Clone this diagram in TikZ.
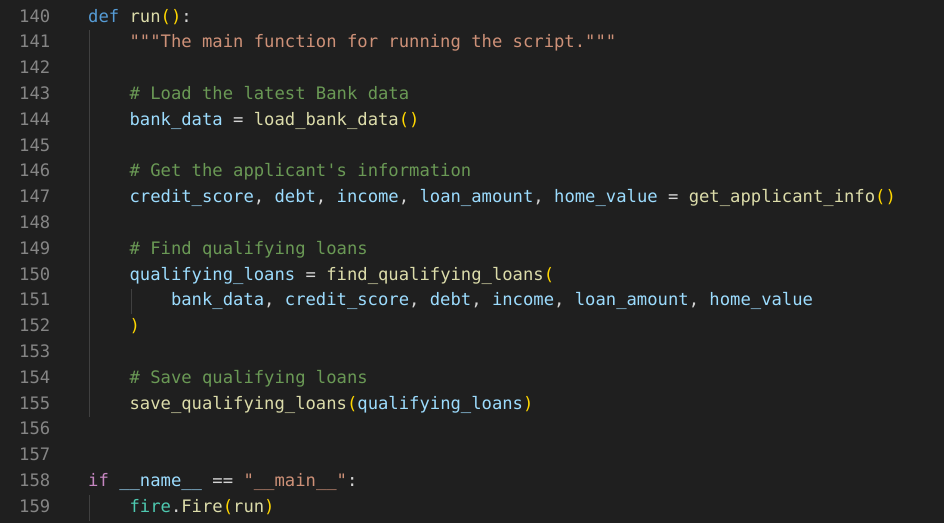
\documentclass[tikz,border=0pt]{standalone}
\usepackage{fontspec}
\newfontfamily\code{DejaVu Sans Mono}[Ligatures=NoCommon]
\definecolor{bg}{HTML}{1F1F1F}
\definecolor{ln}{HTML}{858585}
\definecolor{kwc}{HTML}{569CD6}
\definecolor{fnc}{HTML}{DCDCAA}
\definecolor{vac}{HTML}{9CDCFE}
\definecolor{stc}{HTML}{CE9178}
\definecolor{cmc}{HTML}{6A9955}
\definecolor{brc}{HTML}{FFD700}
\definecolor{opc}{HTML}{D4D4D4}
\definecolor{tec}{HTML}{4EC9B0}
\definecolor{pkc}{HTML}{C586C0}
\definecolor{gd}{HTML}{404040}
\newcommand\kw[1]{\textcolor{kwc}{#1}}
\newcommand\fn[1]{\textcolor{fnc}{#1}}
\newcommand\va[1]{\textcolor{vac}{#1}}
\newcommand\st[1]{\textcolor{stc}{#1}}
\newcommand\cm[1]{\textcolor{cmc}{#1}}
\newcommand\br[1]{\textcolor{brc}{#1}}
\newcommand\te[1]{\textcolor{tec}{#1}}
\newcommand\pk[1]{\textcolor{pkc}{#1}}
\newcommand\q{\symbol{34}}
\begin{document}
\begin{tikzpicture}[x=1pt,y=1pt,
  lnum/.style={anchor=base east,inner sep=0,text=ln,font=\code\fontsize{17.2}{20}\selectfont},
  src/.style={anchor=base west,inner sep=0,text=opc,font=\code\fontsize{17.2}{20}\selectfont},
  guide/.style={draw=gd,line width=1pt}]
\fill[bg] (0,0) rectangle (944,-523);
\useasboundingbox (0,0) rectangle (944,-523);
\foreach \i in {0,...,19}{
  \pgfmathtruncatemacro\n{140+\i}
  \node[lnum] (n\n) at (50.5,{-22-25.8*\i}) {\n};
}
\def\LA{88}\def\LB{129.4}\def\LC{170.8}
\newcommand\Y[1]{{-22-25.8*#1}}
\node[src] (l0) at (\LA,\Y{0}) {\kw{def} \fn{run}\br{()}:};
\node[src] (l1) at (\LB,\Y{1}) {\st{\q\q\q The main function for running the script.\q\q\q}};
\node[src] (l3) at (\LB,\Y{3}) {\cm{\# Load the latest Bank data}};
\node[src] (l4) at (\LB,\Y{4}) {\va{bank\_data} = \fn{load\_bank\_data}\br{()}};
\node[src] (l6) at (\LB,\Y{6}) {\cm{\# Get the applicant\symbol{39}s information}};
\node[src] (l7) at (\LB,\Y{7}) {\va{credit\_score}, \va{debt}, \va{income}, \va{loan\_amount}, \va{home\_value} = \fn{get\_applicant\_info}\br{()}};
\node[src] (l9) at (\LB,\Y{9}) {\cm{\# Find qualifying loans}};
\node[src] (l10) at (\LB,\Y{10}) {\va{qualifying\_loans} = \fn{find\_qualifying\_loans}\br{(}};
\node[src] (l11) at (\LC,\Y{11}) {\va{bank\_data}, \va{credit\_score}, \va{debt}, \va{income}, \va{loan\_amount}, \va{home\_value}};
\node[src] (l12) at (\LB,\Y{12}) {\br{)}};
\node[src] (l14) at (\LB,\Y{14}) {\cm{\# Save qualifying loans}};
\node[src] (l15) at (\LB,\Y{15}) {\fn{save\_qualifying\_loans}\br{(}\va{qualifying\_loans}\br{)}};
\node[src] (l18) at (\LA,\Y{18}) {\pk{if} \va{\_\_name\_\_} == \st{\q\_\_main\_\_\q}:};
\node[src] (l19) at (\LB,\Y{19}) {\te{fire}.\fn{Fire}\br{(}\fn{run}\br{)}};
\coordinate (g1a) at (89,-30); \coordinate (g1b) at (89,-417);
\coordinate (g2a) at (131,-289); \coordinate (g2b) at (131,-314);
\coordinate (g3a) at (89,-495); \coordinate (g3b) at (89,-521);
\draw[guide] (g1a) -- (g1b);
\draw[guide] (g2a) -- (g2b);
\draw[guide] (g3a) -- (g3b);
\end{tikzpicture}
\end{document}
